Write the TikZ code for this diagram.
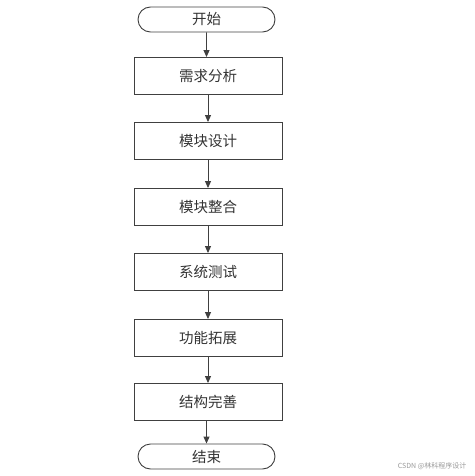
\documentclass[tikz,border=0pt]{standalone}
\usepackage{fontspec}
\newfontfamily\cjk{Noto Sans CJK SC}
\usetikzlibrary{arrows.meta,shapes.misc}
\definecolor{ln}{HTML}{404040}
\tikzset{
  procbox/.style={draw=ln,line width=0.9pt,minimum width=148pt,minimum height=37pt,inner sep=0pt,font=\cjk\fontsize{14.5}{16}\selectfont,text=black!80},
  termbox/.style={draw=ln,line width=0.9pt,rounded rectangle,minimum width=137pt,minimum height=25pt,inner sep=0pt,font=\cjk\fontsize{14.5}{16}\selectfont,text=black!80},
  flow/.style={draw=ln,line width=0.9pt,-{Triangle[length=7pt,width=6pt]}}
}
\begin{document}
\begin{tikzpicture}[x=1pt,y=-1pt]
\useasboundingbox (0,0) rectangle (474,476);
\node[termbox] (s) at (206.5,19.5) {开始};
\node[procbox] (b1) at (208,76) {需求分析};
\node[procbox] (b2) at (208,141) {模块设计};
\node[procbox] (b3) at (208,207) {模块整合};
\node[procbox] (b4) at (208,272) {系统测试};
\node[procbox] (b5) at (208,338) {功能拓展};
\node[procbox] (b6) at (208,402) {结构完善};
\node[termbox] (e) at (206.5,456.5) {结束};
\draw[flow] (s) -- (s|-b1.north);
\draw[flow] (b1) -- (b2);
\draw[flow] (b2) -- (b3);
\draw[flow] (b3) -- (b4);
\draw[flow] (b4) -- (b5);
\draw[flow] (b5) -- (b6);
\draw[flow] (b6.south-|e) -- (e);
\node[font=\cjk\fontsize{7}{8}\selectfont,text=black!40,anchor=east] (wm) at (470,466) {CSDN @林科程序设计};
\end{tikzpicture}
\end{document}
